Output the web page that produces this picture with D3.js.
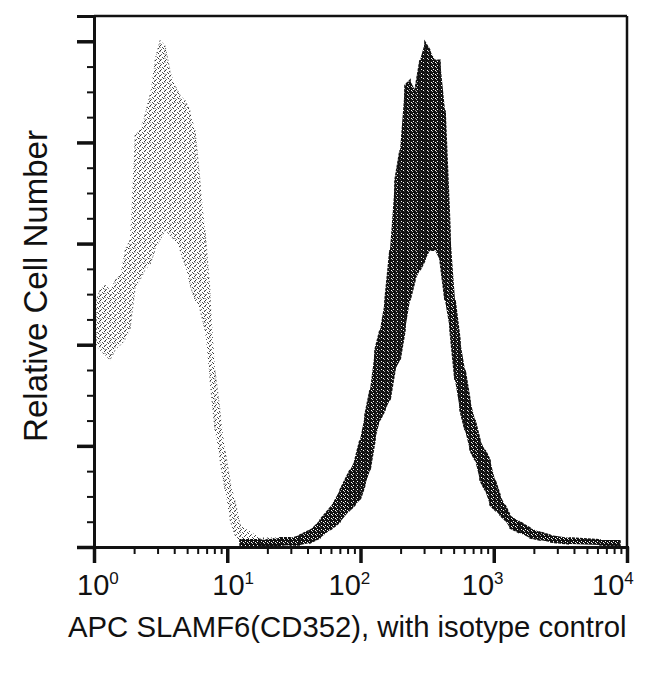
<!DOCTYPE html>
<html>
<head>
<meta charset="utf-8">
<script src="https://cdn.jsdelivr.net/npm/d3@7"></script>
<style>
body { margin: 0; background: #fff; }
svg { display: block; }
text { font-family: "Liberation Sans", Arial, sans-serif; fill: #111; }
</style>
</head>
<body>
<div id="chart"></div>
<script>
// isotype control histogram (grey): channel value, low and high count of the jagged trace
var isoX  = [1.04, 1.11, 1.21, 1.32, 1.44, 1.57, 1.71, 1.86, 2.03, 2.21, 2.41, 2.63, 2.87, 3.13, 3.41, 3.72, 4.05, 4.42, 4.82, 5.25, 5.73, 6.25, 6.81, 7.42, 8.09, 8.82, 9.62, 10.5, 11.4, 12.5, 17.6, 24.9, 35.1];
var isoLo = [79.8, 77.9, 75.9, 73.9, 77.9, 79.8, 81.8, 85.8, 101.6, 105.5, 109.5, 111.5, 117.4, 121.3, 125.3, 123.3, 121.3, 117.4, 111.5, 103.6, 97.6, 93.7, 85.8, 66, 46.2, 34.4, 22.5, 10.7, 4.7, 0.8, 0.4, 0.4, 0.4];
var isoHi = [97.6, 101.6, 103.6, 101.6, 105.5, 107.5, 117.4, 121.3, 162.8, 164.8, 170.8, 178.7, 192.5, 200.4, 198.4, 188.5, 182.6, 178.7, 176.7, 172.7, 164.8, 145, 125.3, 101.6, 70, 54.2, 38.3, 26.5, 18.6, 8.7, 3.6, 3.6, 2.8];

// APC SLAMF6 (CD352) histogram (black)
var slamX  = [12.5, 17.6, 24.9, 29.6, 35.1, 41.8, 49.7, 59.0, 70.2, 83.4, 90.9, 99.1, 108.1, 117.8, 128.5, 140, 152.7, 166.4, 181.5, 197.9, 215.8, 235.2, 256.5, 279.6, 304.9, 332.4, 362.4, 395.1, 430.8, 469.6, 512, 558.2, 608.6, 663.5, 723.4, 788.6, 860, 937.4, 1022, 1114, 1214, 1324, 1574, 1871, 2223, 2642, 3733, 6273, 8856];
var slamLo = [0.4, 0.4, 0.4, 0.8, 0.8, 1.6, 3.6, 6.7, 9.9, 14.6, 16.6, 18.6, 24.5, 30.4, 42.3, 50.2, 54.2, 58.1, 70, 73.9, 85.8, 97.6, 105.5, 109.5, 113.4, 117.4, 117.4, 113.4, 97.6, 85.8, 66, 54.2, 46.2, 38.3, 34.4, 26.5, 22.5, 16.6, 14.6, 12.6, 10.7, 7.5, 5.5, 3.6, 2.8, 2, 1.2, 0.8, 0.4];
var slamHi = [2.8, 2.8, 3.6, 3.6, 4.7, 6.7, 10.7, 15.4, 22.5, 30.4, 34.4, 42.3, 52.2, 62, 77.9, 85.8, 97.6, 117.4, 145, 156.9, 182.6, 184.6, 180.6, 192.5, 199.6, 196.4, 192.5, 192.5, 172.7, 125.3, 97.6, 81.8, 70, 58.1, 50.2, 42.3, 38.3, 34.4, 26.5, 20.6, 16.6, 12.6, 9.9, 7.5, 5.9, 4.7, 3.6, 2.8, 2.8];

var xMajor = [1, 10, 100, 1000, 10000];
var xExp = ["0", "1", "2", "3", "4"];
var yMajor = [0, 40, 80, 120, 160, 200];
var yMinor = d3.range(0, 210, 10);

var xTitle = "APC SLAMF6(CD352), with isotype control";
var yTitle = "Relative Cell Number";

function drawChart() {
	var W = 650, H = 679;
	var mLeft = 94, mRight = 627, mTop = 16, mBottom = 547;

	var svg = d3.select("#chart").append("svg")
		.attr("width", W)
		.attr("height", H);

	var x = d3.scaleLog().domain([1, 10000]).range([mLeft, mRight]);
	var y = d3.scaleLinear().domain([0, 210]).range([mBottom, mTop]);

	// speckle textures, like the scanned dots
	var defs = svg.append("defs");
	var dense = defs.append("pattern")
		.attr("id", "dense")
		.attr("width", 4).attr("height", 4)
		.attr("patternUnits", "userSpaceOnUse");
	dense.append("rect").attr("width", 4).attr("height", 4).attr("fill", "#111");
	dense.append("rect").attr("x", 1).attr("y", 1).attr("width", 1).attr("height", 1).attr("fill", "#fff");
	dense.append("rect").attr("x", 3).attr("y", 2).attr("width", 1).attr("height", 1).attr("fill", "#fff");
	dense.append("rect").attr("x", 0).attr("y", 3).attr("width", 1).attr("height", 1).attr("fill", "#ccc");

	var sparse = defs.append("pattern")
		.attr("id", "sparse")
		.attr("width", 5).attr("height", 5)
		.attr("patternUnits", "userSpaceOnUse");
	[[0, 0, "#333"], [2, 2, "#555"], [4, 1, "#444"], [1, 4, "#666"], [3, 3, "#333"]].forEach(function(p) {
		sparse.append("rect").attr("x", p[0]).attr("y", p[1])
			.attr("width", 1).attr("height", 1).attr("fill", p[2]);
	});

	function band(xs, lo, hi) {
		return xs.map(function(d, i) { return {x: d, lo: lo[i], hi: hi[i]}; });
	}

	// trace that jumps between low and high count, like the raw channel histogram
	function zigzag(xs, lo, hi) {
		var pts = [];
		xs.forEach(function(d, i) {
			pts.push([d, i % 2 ? hi[i] : lo[i]]);
			pts.push([d, i % 2 ? lo[i] : hi[i]]);
		});
		return pts;
	}

	var area = d3.area()
		.x(function(d) { return x(d.x); })
		.y0(function(d) { return y(d.lo); })
		.y1(function(d) { return y(d.hi); });

	var line = d3.line()
		.x(function(d) { return x(d[0]); })
		.y(function(d) { return y(d[1]); });

	// isotype control
	svg.append("path")
		.attr("d", area(band(isoX, isoLo, isoHi)))
		.attr("fill", "url(#sparse)");
	svg.append("path")
		.attr("d", line(zigzag(isoX, isoLo, isoHi)))
		.attr("fill", "none")
		.attr("stroke", "#555")
		.attr("stroke-width", 1)
		.attr("stroke-dasharray", "1 3");

	// SLAMF6
	svg.append("path")
		.attr("d", area(band(slamX, slamLo, slamHi)))
		.attr("fill", "url(#dense)");
	svg.append("path")
		.attr("d", line(zigzag(slamX, slamLo, slamHi)))
		.attr("fill", "none")
		.attr("stroke", "#111")
		.attr("stroke-width", 1.6)
		.attr("stroke-dasharray", "3 1");

	// frame
	svg.append("line")
		.attr("x1", mLeft).attr("x2", mRight).attr("y1", mTop).attr("y2", mTop)
		.attr("stroke", "#111").attr("stroke-width", 2.5);
	svg.append("line")
		.attr("x1", mRight).attr("x2", mRight).attr("y1", mTop).attr("y2", mBottom)
		.attr("stroke", "#111").attr("stroke-width", 2.5);

	// y axis: minor and major ticks, no labels
	var yMinorAxis = d3.axisLeft(y).tickValues(yMinor).tickSize(7).tickFormat("");
	var yMajorAxis = d3.axisLeft(y).tickValues(yMajor).tickSize(17).tickFormat("");
	svg.append("g").attr("class", "axis")
		.attr("transform", "translate(" + mLeft + ",0)")
		.call(yMinorAxis);
	svg.append("g").attr("class", "axis major")
		.attr("transform", "translate(" + mLeft + ",0)")
		.call(yMajorAxis);

	// x axis: log minor ticks and decade ticks
	var xMinor = [];
	xMajor.slice(0, -1).forEach(function(d) {
		for (var k = 2; k < 10; k++) xMinor.push(d * k);
	});
	var xMinorAxis = d3.axisBottom(x).tickValues(xMinor).tickSize(7).tickFormat("");
	var xMajorAxis = d3.axisBottom(x).tickValues(xMajor).tickSize(16).tickFormat("");
	svg.append("g").attr("class", "axis")
		.attr("transform", "translate(0," + mBottom + ")")
		.call(xMinorAxis);
	svg.append("g").attr("class", "axis major")
		.attr("transform", "translate(0," + mBottom + ")")
		.call(xMajorAxis);

	svg.selectAll(".axis path.domain")
		.attr("stroke", "#111")
		.attr("stroke-width", 3);
	svg.selectAll(".axis line")
		.attr("stroke", "#111")
		.attr("stroke-width", 2);
	svg.selectAll(".axis.major line")
		.attr("stroke-width", 3.5);

	// decade labels 10^n, spaced a little tighter than the ticks as in the scan
	var shift = [-17, -15, -32, -32, -35];
	var lab = svg.append("g").selectAll("text")
		.data(xMajor)
		.enter()
		.append("text")
		.attr("x", function(d, i) { return x(d) + shift[i]; })
		.attr("y", 595)
		.style("font-size", "29px");
	lab.append("tspan").text("10");
	lab.append("tspan")
		.attr("dy", -11)
		.style("font-size", "17px")
		.text(function(d, i) { return xExp[i]; });

	svg.append("text")
		.attr("x", 68)
		.attr("y", 637)
		.style("font-size", "29.3px")
		.text(xTitle);

	svg.append("text")
		.attr("transform", "translate(47,286) rotate(-90)")
		.attr("text-anchor", "middle")
		.style("font-size", "33px")
		.text(yTitle);
}

drawChart();
</script>
</body>
</html>
